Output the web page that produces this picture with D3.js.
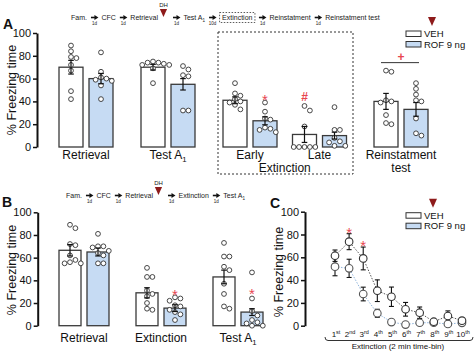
<!DOCTYPE html>
<html>
<head>
<meta charset="utf-8">
<script src="https://cdn.jsdelivr.net/npm/d3@7"></script>
<style>
body { margin: 0; background: #fff; }
text { font-family: "Liberation Sans", Arial, sans-serif; fill: #111; }
</style>
</head>
<body>
<div id="chart"></div>
<script>
var width = 474;
var height = 351;

// ---- data ----
const conds = ["VEH", "ROF"];
const condLabels = ["VEH", "ROF 9 ng"];

// panel A
const groupsA = ["Retrieval", "Test A1", "Early", "Late", "Reinstatment test"];
const meanA = { VEH: [70, 70, 41, 11, 40], ROF: [60, 55, 23, 10, 33] };
const semA = { VEH: [6, 2.5, 3, 7, 7], ROF: [4.5, 5, 3.5, 3, 6] };
const dotsA = {
  VEH: [[89, 84, 79, 78, 72, 67, 49, 42], [75, 74, 74, 73, 72, 72, 69, 56], [56, 47, 45, 42, 40, 39, 37, 33],
        [36, 32, 18, 0, 0, 0, 0, 0], [67, 66, 41, 40, 39, 28, 21, 20]],
  ROF: [[83, 66, 61, 60, 59, 58, 54, 42], [71, 68, 63, 62, 32, 32], [39, 31, 25, 24, 17, 16, 15, 13],
        [35, 15, 15, 8, 5, 4, 1, 1], [56, 51, 46, 41, 40, 25, 12, 10]]
};
const sigA = [{ g: "Early", c: "ROF", v: 46, s: "*" }, { g: "Late", c: "VEH", v: 44, s: "#" }];
const reinstSig = { line: 74, mark: 79, s: "+" };

// panel B
const groupsB = ["Retrieval", "Extinction", "Test A1"];
const meanB = { VEH: [66.5, 29, 43], ROF: [65, 15.5, 12] };
const semB = { VEH: [5, 4.5, 6], ROF: [3.5, 3, 3] };
const dotsB = {
  VEH: [[89, 86, 72, 71, 62, 58, 56, 55, 55], [51, 43, 43, 31, 28, 26, 20, 15, 14], [73, 61, 61, 52, 49, 37, 28, 17, 15]],
  ROF: [[81, 70, 70, 69, 66, 64, 62, 55, 55], [25, 24, 22, 18, 17, 14, 12, 10, 5], [47, 24, 13, 9, 5, 3, 2, 0, 0]]
};
const sigB = [{ g: "Extinction", c: "ROF", v: 31.5, s: "*" }, { g: "Test A1", c: "ROF", v: 33, s: "*" }];

// panel C
const bins = ["1", "2", "3", "4", "5", "6", "7", "8", "9", "10"];
const binSuffix = ["st", "nd", "rd", "th", "th", "th", "th", "th", "th", "th"];
const vehC = [61.4, 73.7, 59, 30.7, 25.4, 14.4, 11.4, 3.5, 8.5, 4.4];
const vehSemC = [5, 7, 10, 9.5, 8.5, 6, 5, 1, 4.5, 2];
const rofC = [51.8, 50.3, 27.8, 10.9, 3.2, 1, 2.6, 2.6, 1.5, 2.5];
const rofSemC = [8, 8, 6, 3.5, 1, 0.5, 1, 1, 0.5, 1];
const sigC = [{ b: "2", v: 86 }, { b: "3", v: 74.5 }];

// timelines
const stepsA = ["Fam.", "CFC", "Retrieval", "Test A1", "Extinction", "Reinstatment", "Reinstatment test"];
const gapsA = ["1d", "1d", "1d", "10d", "1d", "1d"];
const stepsB = ["Fam.", "CFC", "Retrieval", "Extinction", "Test A1"];
const gapsB = ["1d", "1d", "1d", "1d"];

const fillColor = { VEH: "#ffffff", ROF: "#c6dbf3" };
const red = "#e8464f";
const darkRed = "#8e1b1b";

var svg = d3.select("#chart").append("svg")
  .attr("width", width).attr("height", height);

// ---- helpers ----
function subLabel(sel, label, size) {
  // "Test A1" -> subscript 1
  if (label.endsWith("A1")) {
    sel.text(label.slice(0, -1));
    sel.append("tspan").attr("font-size", size * 0.65).attr("dy", size * 0.25).text("1");
  } else sel.text(label);
}

function swarm(vals, y, cx, minD) {
  const placed = [];
  const out = new Array(vals.length);
  vals.map((v, i) => ({ v, i })).sort((a, b) => b.v - a.v).forEach(({ v, i }) => {
    const py = y(v);
    for (let k = 0; k < 60; k++) {
      const off = k === 0 ? 0 : (k % 2 ? 1 : -1) * Math.ceil(k / 2) * minD * 0.5;
      if (placed.every(p => Math.hypot(p.x - off, p.y - py) >= minD)) {
        placed.push({ x: off, y: py });
        out[i] = { x: cx + off, y: py };
        break;
      }
    }
  });
  return out;
}

function yAxis(g, y, x) {
  const ax = g.append("g").attr("transform", `translate(${x},0)`)
    .call(d3.axisLeft(y).tickValues([0, 20, 40, 60, 80, 100]).tickSize(4).tickSizeOuter(0).tickPadding(2));
  ax.select(".domain").attr("stroke", "#111").attr("stroke-width", 2);
  ax.selectAll(".tick line").attr("stroke", "#111").attr("stroke-width", 1.5);
  ax.selectAll(".tick text").attr("font-size", 11).attr("fill", "#111")
    .attr("font-family", "'Liberation Sans', Arial, sans-serif");
}

function yLabel(x, cy) {
  svg.append("text").attr("transform", `translate(${x},${cy}) rotate(-90)`)
    .attr("text-anchor", "middle").attr("font-size", 12.5).text("% Freezing time");
}

function errBar(g, cx, y0, y1, cap) {
  g.append("line").attr("x1", cx).attr("x2", cx).attr("y1", y0).attr("y2", y1);
  g.append("line").attr("x1", cx - cap).attr("x2", cx + cap).attr("y1", y0).attr("y2", y0);
  g.append("line").attr("x1", cx - cap).attr("x2", cx + cap).attr("y1", y1).attr("y2", y1);
}

function barPanel(groups, xg, inner, y, means, sems, dots) {
  const g = svg.append("g");
  conds.forEach(c => {
    groups.forEach((grp, i) => {
      const x0 = xg(grp) + inner(c);
      g.append("rect").attr("x", x0).attr("y", y(means[c][i]))
        .attr("width", inner.bandwidth()).attr("height", y(0) - y(means[c][i]))
        .attr("fill", fillColor[c]).attr("stroke", "#3a3a3a").attr("stroke-width", 1.3);
    });
  });
  conds.forEach(c => {
    groups.forEach((grp, i) => {
      const cx = xg(grp) + inner(c) + inner.bandwidth() / 2;
      const pts = swarm(dots[c][i], y, cx, 5.4);
      g.selectAll(null).data(pts).join("circle")
        .attr("cx", d => d.x).attr("cy", d => d.y).attr("r", 2.4)
        .attr("fill", "#fff").attr("stroke", "#333").attr("stroke-width", 0.9);
      const eb = g.append("g").attr("stroke", "#111").attr("stroke-width", 1.2);
      errBar(eb, cx, y(means[c][i] - sems[c][i]), y(means[c][i] + sems[c][i]), 2.8);
    });
  });
  return g;
}

function sigMark(x, y, s) {
  svg.append("text").attr("x", x).attr("y", y).attr("text-anchor", "middle")
    .attr("font-size", s === "*" ? 15 : 12).attr("font-weight", s === "*" ? "normal" : "bold")
    .style("fill", red).attr("dy", s === "*" ? "0.7em" : "0.35em").text(s);
}

function timeline(x, y, steps, gaps, dhAfter, boxed) {
  const g = svg.append("g").attr("transform", `translate(${x},${y})`);
  let cx = 0;
  steps.forEach((s, i) => {
    let pad = s === boxed ? 2.5 : 0;
    cx += pad;
    const t = g.append("text").attr("x", cx).attr("y", 0).attr("font-size", 7).style("fill", "#222");
    subLabel(t, s, 7);
    const w = t.node().getComputedTextLength();
    if (s === boxed) {
      g.append("rect").attr("x", cx - pad).attr("y", -7.5).attr("width", w + 2 * pad).attr("height", 10)
        .attr("fill", "none").attr("stroke", "#333").attr("stroke-width", 0.8).attr("stroke-dasharray", "1.5,1.5");
    }
    cx += w + pad;
    if (i === dhAfter) {
      const tx = cx + 5.5;
      g.append("path").attr("d", `M${tx - 3.6},-11 L${tx + 3.6},-11 L${tx},-3 Z`).attr("fill", darkRed);
      g.append("text").attr("x", tx).attr("y", -13).attr("font-size", 6).attr("text-anchor", "middle")
        .style("fill", "#222").text("DH");
      cx += 11;
    }
    if (i < gaps.length) {
      cx += 4;
      g.append("line").attr("x1", cx).attr("x2", cx + 4).attr("y1", -2.5).attr("y2", -2.5)
        .attr("stroke", "#111").attr("stroke-width", 1.6);
      g.append("path").attr("d", `M${cx + 3.5},-5 L${cx + 7.5},-2.5 L${cx + 3.5},0 Z`).attr("fill", "#111");
      g.append("text").attr("x", cx + 3.5).attr("y", 4.5).attr("font-size", 4.5)
        .attr("text-anchor", "middle").style("fill", "#222").text(gaps[i]);
      cx += 7.5 + 3;
    }
  });
}

function legend(x, y, tri) {
  const g = svg.append("g").attr("transform", `translate(${x},${y})`);
  g.append("path").attr("d", `M${tri - 4},-14 L${tri + 4},-14 L${tri},-5 Z`).attr("fill", darkRed);
  conds.forEach((c, i) => {
    g.append("rect").attr("x", 0).attr("y", i * 10.5).attr("width", 15).attr("height", 5.5)
      .attr("fill", fillColor[c]).attr("stroke", "#333").attr("stroke-width", 1);
    g.append("text").attr("x", 18).attr("y", i * 10.5 + 6).attr("font-size", 9.5).text(condLabels[i]);
  });
}

function panelLetter(x, y, l) {
  svg.append("text").attr("x", x).attr("y", y).attr("font-size", 14).attr("font-weight", "bold").text(l);
}

// ---- Panel A ----
const yA = d3.scaleLinear().domain([0, 100]).range([147, 33]);
const xA = d3.scaleOrdinal().domain(groupsA).range([86, 168, 250, 319.5, 401]);
const innerA = d3.scaleBand().domain(conds).range([-27, 27]).paddingInner(0.2);

svg.append("rect").attr("x", 218).attr("y", 32).attr("width", 135).attr("height", 142)
  .attr("fill", "none").attr("stroke", "#333").attr("stroke-width", 1).attr("stroke-dasharray", "2,2");

barPanel(groupsA, xA, innerA, yA, meanA, semA, dotsA);
yAxis(svg, yA, 37);
yLabel(16, 90);
panelLetter(3, 29, "A");

["Retrieval", "Test A1", "Early", "Late", "Reinstatment"].forEach((lab, i) => {
  const t = svg.append("text").attr("x", xA(groupsA[i])).attr("y", 158.5)
    .attr("text-anchor", "middle").attr("font-size", 12);
  subLabel(t, lab, 12);
});
svg.append("text").attr("x", (xA("Early") + xA("Late")) / 2).attr("y", 171.5)
  .attr("text-anchor", "middle").attr("font-size", 12).text("Extinction");
svg.append("text").attr("x", xA("Reinstatment test")).attr("y", 171.5)
  .attr("text-anchor", "middle").attr("font-size", 12).text("test");

sigA.forEach(d => sigMark(xA(d.g) + innerA(d.c) + innerA.bandwidth() / 2, yA(d.v), d.s));
svg.append("line").attr("x1", xA("Reinstatment test") - 20).attr("x2", xA("Reinstatment test") + 18)
  .attr("y1", yA(reinstSig.line)).attr("y2", yA(reinstSig.line)).attr("stroke", "#333").attr("stroke-width", 1);
sigMark(xA("Reinstatment test"), yA(reinstSig.mark), reinstSig.s);

timeline(71, 20, stepsA, gapsA, 2, "Extinction");
legend(406, 31, 26);

// ---- Panel B ----
const yB = d3.scaleLinear().domain([0, 100]).range([325.7, 212.3]);
const xB = d3.scalePoint().domain(groupsB).range([84, 238]);
const innerB = d3.scaleBand().domain(conds).range([-25, 25]).paddingInner(0.214);

barPanel(groupsB, xB, innerB, yB, meanB, semB, dotsB);
yAxis(svg, yB, 37.7);
yLabel(16, 270);
panelLetter(2, 207, "B");
groupsB.forEach(grp => {
  const t = svg.append("text").attr("x", xB(grp)).attr("y", 342)
    .attr("text-anchor", "middle").attr("font-size", 12);
  subLabel(t, grp, 12);
});
sigB.forEach(d => sigMark(xB(d.g) + innerB(d.c) + innerB.bandwidth() / 2, yB(d.v), d.s));
timeline(66, 198, stepsB, gapsB, 2, null);

// ---- Panel C ----
const yC = d3.scaleLinear().domain([0, 100]).range([325.7, 211.7]);
const xC = d3.scalePoint().domain(bins).range([335, 462]);

const gC = svg.append("g");
const lineC = vals => d3.line().x((d, i) => xC(bins[i])).y(d => yC(d))(vals);
gC.append("path").attr("d", lineC(rofC)).attr("fill", "none")
  .attr("stroke", "#8fb4dc").attr("stroke-width", 1).attr("stroke-dasharray", "1.5,1.5");
gC.append("path").attr("d", lineC(vehC)).attr("fill", "none")
  .attr("stroke", "#555").attr("stroke-width", 1).attr("stroke-dasharray", "1.5,1.5");

const ebC = gC.append("g").attr("stroke", "#111").attr("stroke-width", 1.1);
bins.forEach((b, i) => {
  errBar(ebC, xC(b), yC(rofC[i] - rofSemC[i]), yC(rofC[i] + rofSemC[i]), 2.5);
  errBar(ebC, xC(b), yC(vehC[i] - vehSemC[i]), yC(vehC[i] + vehSemC[i]), 2.5);
});
[[rofC, "#555"], [vehC, "#333"]].forEach(([vals, col]) => {
  gC.selectAll(null).data(vals).join("circle")
    .attr("cx", (d, i) => xC(bins[i])).attr("cy", d => yC(d)).attr("r", 3.8)
    .attr("fill", "#fff").attr("stroke", col).attr("stroke-width", 1.1);
});
sigC.forEach(d => sigMark(xC(d.b), yC(d.v), "*"));

yAxis(svg, yC, 305);
yLabel(283, 272);
panelLetter(270, 208, "C");

bins.forEach((b, i) => {
  const t = svg.append("text").attr("x", xC(b) + 1).attr("y", 336.5)
    .attr("text-anchor", "middle").attr("font-size", 8);
  t.append("tspan").text(b);
  t.append("tspan").attr("font-size", 5.5).attr("dy", -3).text(binSuffix[i]);
});
svg.append("path").attr("d", "M325,337 Q325,340.5 328,340.5 L470,340.5 Q473,340.5 473,337")
  .attr("fill", "none").attr("stroke", "#333").attr("stroke-width", 1);
svg.append("text").attr("x", 398).attr("y", 348.5).attr("text-anchor", "middle")
  .attr("font-size", 8).text("Extinction (2 min time-bin)");

legend(406, 212.7, 27);
</script>
</body>
</html>
